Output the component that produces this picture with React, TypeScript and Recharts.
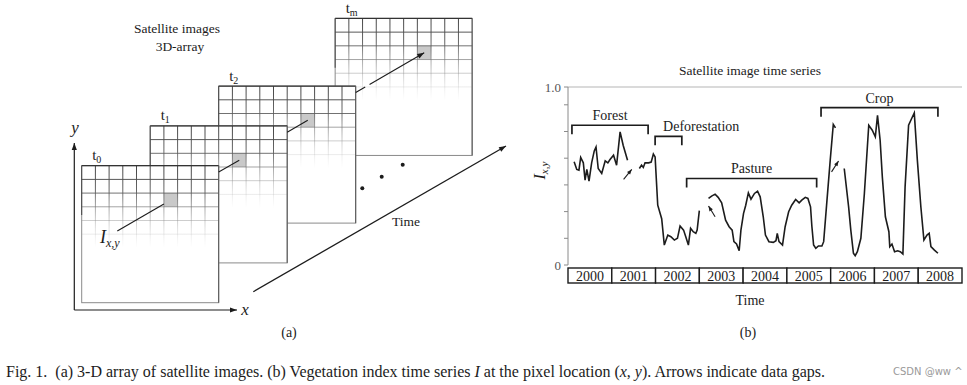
import React from 'react';
import {
  LineChart,
  Line,
  XAxis,
  YAxis,
  ReferenceLine,
  ScatterChart,
  Scatter,
} from 'recharts';

const SERIF = '"Liberation Serif", "DejaVu Serif", serif';
const INK = '#1c1c1c';

// ---------- (b) vegetation index time series ----------
const YEARS = [2000, 2001, 2002, 2003, 2004, 2005, 2006, 2007, 2008];
const Y_TICKS = [0, 0.15, 0.3, 0.45, 0.6, 0.75, 0.9, 1.0];

// sample dates (decimal years); a null value marks a data gap
const sampleYears = [
  2000.14, 2000.2, 2000.25, 2000.29, 2000.35, 2000.39, 2000.43, 2000.48, 2000.54, 2000.6, 2000.64, 2000.69, 2000.77, 2000.85, 2000.91, 2000.96,
  2001.04, 2001.11, 2001.19, 2001.26, 2001.36, 2001.5, 2001.63, 2001.68, 2001.72, 2001.76, 2001.84, 2001.9, 2001.95, 2001.99,
  2002.05, 2002.14, 2002.2, 2002.28, 2002.35, 2002.43, 2002.5, 2002.56, 2002.64, 2002.69, 2002.75, 2002.8, 2002.86, 2002.92, 2002.95,
  2003.0, 2003.1, 2003.21, 2003.28, 2003.36, 2003.43, 2003.51, 2003.6, 2003.68, 2003.75, 2003.79, 2003.85, 2003.91, 2003.95,
  2004.01, 2004.06, 2004.12, 2004.18, 2004.26, 2004.33, 2004.39, 2004.46, 2004.51, 2004.59, 2004.69, 2004.75, 2004.78, 2004.82, 2004.9, 2004.96,
  2005.04, 2005.11, 2005.2, 2005.28, 2005.34, 2005.42, 2005.48, 2005.54, 2005.57, 2005.61, 2005.66, 2005.72, 2005.8, 2005.84, 2005.91, 2005.99,
  2006.06, 2006.11, 2006.2, 2006.31, 2006.41, 2006.46, 2006.52, 2006.56, 2006.61, 2006.69, 2006.77, 2006.87, 2006.95,
  2007.02, 2007.07, 2007.13, 2007.18, 2007.25, 2007.33, 2007.35, 2007.4, 2007.46, 2007.53, 2007.59, 2007.65, 2007.7, 2007.78, 2007.85, 2007.91, 2007.98,
  2008.06, 2008.13, 2008.2, 2008.25, 2008.29, 2008.37, 2008.45,
];

const indexValues: (number | null)[] = [
  0.58, 0.537, 0.533, 0.604, 0.574, 0.477, 0.537, 0.471, 0.574, 0.641, 0.663, 0.542, 0.514, 0.585, 0.574, 0.593,
  0.617, 0.561, 0.748, 0.673, 0.589, null, 0.542, 0.561, 0.548, 0.574, 0.574, 0.578, 0.623, 0.607,
  0.336, 0.26, 0.112, 0.168, 0.159, 0.14, 0.15, 0.219, 0.196, 0.159, 0.112, 0.206, 0.187, 0.178, 0.196,
  0.305, null, 0.374, 0.387, 0.398, 0.38, 0.35, 0.252, 0.215, 0.196, 0.131, 0.118, 0.08, 0.196,
  0.29, 0.336, 0.405, 0.37, 0.402, 0.415, 0.383, 0.271, 0.168, 0.131, 0.127, 0.136, 0.178, 0.131, 0.112, 0.215,
  0.299, 0.336, 0.368, 0.349, 0.364, 0.38, 0.374, 0.327, 0.219, 0.112, 0.094, 0.107, 0.107, 0.131, 0.346, 0.589,
  0.79, 0.77, null, 0.542, 0.327, 0.196, 0.066, 0.052, 0.075, 0.15, 0.402, 0.785, 0.757,
  0.72, 0.841, 0.701, 0.495, 0.271, 0.187, 0.103, 0.118, 0.075, 0.08, 0.075, 0.062, 0.439, 0.785, 0.823, 0.854, 0.589,
  0.327, 0.14, 0.168, 0.178, 0.103, 0.084, 0.066,
];

const phases = [
  { label: 'Forest', from: 2000.09, to: 2001.83, level: 0.785, anchor: 'middle' },
  { label: 'Deforestation', from: 2001.99, to: 2002.6, level: 0.723, anchor: 'start' },
  { label: 'Pasture', from: 2002.71, to: 2005.68, level: 0.486, anchor: 'middle' },
  { label: 'Crop', from: 2005.78, to: 2008.45, level: 0.884, anchor: 'middle' },
];

// arrows pointing at the gaps: tail -> head
const gapArrows = [
  { t0: 2001.27, v0: 0.481, t1: 2001.456, v1: 0.537 },
  { t0: 2003.36, v0: 0.271, t1: 2003.21, v1: 0.331 },
  { t0: 2006.02, v0: 0.523, t1: 2006.18, v1: 0.584 },
];

// ---------- (a) 3-D array sketch ----------
const frameNames = ['0', '1', '2', 'm'];
const frameDepths = [0, 1, 2, 3.7];
const ellipsisDots = [
  { x: 362.3, y: 188.3 },
  { x: 381.7, y: 176.7 },
  { x: 402.7, y: 164.7 },
];
const timeAxis = [{ x: 253.3, y: 291.7 }, { x: 506, y: 146 }];
const yAxisArrow = [{ x: 74.3, y: 310 }, { x: 74.3, y: 143 }];
const xAxisArrow = [{ x: 74.3, y: 310 }, { x: 237, y: 310 }];
const sketchLabels = [
  { x: 177, y: 33, text: 'Satellite images', kind: 'plain' },
  { x: 180, y: 51, text: '3D-array', kind: 'plain' },
  { x: 406, y: 226, text: 'Time', kind: 'plain' },
  { x: 75, y: 133, text: 'y', kind: 'italic' },
  { x: 245, y: 315, text: 'x', kind: 'italic' },
  { x: 100, y: 243, text: 'I', sub: 'x,y', kind: 'sub' },
];

const FRAME_ORIGIN = { x: 81.7, y: 165.7 };
const FRAME_STEP = { x: 68.5, y: -39.8 };
const FRAME_SIZE = 137;
const CELLS = 10;
const CELL = FRAME_SIZE / CELLS;
const PIXEL = { col: 6, row: 2 };
const LABEL_START = 117.3;

const frameAt = (d: number) => ({ x: FRAME_ORIGIN.x + d * FRAME_STEP.x, y: FRAME_ORIGIN.y + d * FRAME_STEP.y });
const cellAt = (d: number) => {
  const f = frameAt(d);
  return { x: f.x + (PIXEL.col + 0.5) * CELL, y: f.y + (PIXEL.row + 0.5) * CELL };
};
const onRay = (d: number, atX: number) => {
  const c = cellAt(d);
  return { x: atX, y: c.y + ((atX - c.x) / FRAME_STEP.x) * FRAME_STEP.y };
};

const framePoints = frameNames
  .map((name, i) => ({ ...frameAt(frameDepths[i]), name }))
  .reverse();

const connectors = frameDepths.map((d, i) => {
  if (i === 0) {
    return [onRay(d, LABEL_START), onRay(d, frameAt(d).x + PIXEL.col * CELL)];
  }
  const prev = frameAt(frameDepths[i - 1]);
  return [onRay(d, prev.x + FRAME_SIZE), cellAt(d)];
});

const withHead = (pts: { x: number; y: number }[]) => {
  const [a, b] = pts;
  return [a, { ...b, dir: { dx: b.x - a.x, dy: b.y - a.y } }];
};

function headPath(x: number, y: number, dx: number, dy: number, len = 7, half = 2.6) {
  const n = Math.hypot(dx, dy) || 1;
  const ux = dx / n;
  const uy = dy / n;
  const bx = x - ux * len;
  const by = y - uy * len;
  return `M${x},${y} L${bx - uy * half},${by + ux * half} L${bx + uy * half},${by - ux * half} Z`;
}

const serifStyle = { fontFamily: SERIF };

const EndShape = (props: any) => {
  const { cx, cy, payload } = props;
  if (!payload || !payload.dir) return <g />;
  return <path d={headPath(cx, cy, payload.dir.dx, payload.dir.dy)} fill={INK} />;
};

const FrameShape = (props: any) => {
  const { cx, cy, payload } = props;
  const id = `fade-${payload.name}`;
  const fadeH = CELL * 6;
  const cols = Array.from({ length: CELLS - 1 }, (_, i) => cx + (i + 1) * CELL);
  const rows = Array.from({ length: 6 }, (_, j) => cy + (j + 1) * CELL);
  return (
    <g>
      <defs>
        <linearGradient id={id} gradientUnits="userSpaceOnUse" x1={0} y1={cy} x2={0} y2={cy + fadeH}>
          <stop offset="0" stopColor="#444" stopOpacity={1} />
          <stop offset="0.3" stopColor="#555" stopOpacity={0.9} />
          <stop offset="0.65" stopColor="#888" stopOpacity={0.45} />
          <stop offset="1" stopColor="#bbb" stopOpacity={0} />
        </linearGradient>
      </defs>
      <rect x={cx} y={cy} width={FRAME_SIZE} height={FRAME_SIZE} fill="#fff" stroke="#8a8a8a" strokeWidth={1} />
      <rect x={cx + PIXEL.col * CELL} y={cy + PIXEL.row * CELL} width={CELL} height={CELL} fill="#c9c9c9" />
      {cols.map((vx) => (
        <line key={`v${vx}`} x1={vx} x2={vx} y1={cy} y2={cy + fadeH} stroke={`url(#${id})`} strokeWidth={1} />
      ))}
      {rows.map((hy) => (
        <line key={`h${hy}`} x1={cx} x2={cx + FRAME_SIZE} y1={hy} y2={hy} stroke={`url(#${id})`} strokeWidth={1} />
      ))}
      <line x1={cx} x2={cx + FRAME_SIZE} y1={cy} y2={cy} stroke="#333" strokeWidth={1.2} />
      <line x1={cx} x2={cx} y1={cy} y2={cy + fadeH * 0.6} stroke="#444" strokeWidth={1} />
      <line x1={cx + FRAME_SIZE} x2={cx + FRAME_SIZE} y1={cy} y2={cy + FRAME_SIZE} stroke="#555" strokeWidth={1} />
      <text x={cx + 10.5} y={cy - 5.5} style={serifStyle} fontSize={15} fill={INK}>
        t<tspan fontSize={10} dy={3}>{payload.name}</tspan>
      </text>
    </g>
  );
};

const LabelShape = (props: any) => {
  const { cx, cy, payload } = props;
  if (payload.kind === 'sub') {
    return (
      <text x={cx} y={cy} style={serifStyle} fontStyle="italic" fontSize={18} fill={INK}>
        {payload.text}
        <tspan fontSize={12} dy={4}>{payload.sub}</tspan>
      </text>
    );
  }
  return (
    <text
      x={cx}
      y={cy}
      textAnchor="middle"
      style={serifStyle}
      fontStyle={payload.kind === 'italic' ? 'italic' : 'normal'}
      fontSize={payload.kind === 'italic' ? 17 : 13.5}
      fill={INK}
    >
      {payload.text}
    </text>
  );
};

const Dot = (props: any) => <circle cx={props.cx} cy={props.cy} r={2} fill={INK} />;

const A_W = 520;
const A_H = 345;

function ArraySketch() {
  const lineStyle = { stroke: INK, strokeWidth: 1.1 };
  return (
    <ScatterChart width={A_W} height={A_H} margin={{ top: 0, right: 0, bottom: 0, left: 0 }}>
      <XAxis type="number" dataKey="x" domain={[0, A_W]} hide allowDataOverflow />
      <YAxis type="number" dataKey="y" domain={[0, A_H]} reversed hide allowDataOverflow />
      <Scatter data={framePoints} shape={FrameShape} isAnimationActive={false} />
      {connectors.map((seg, i) => (
        <Scatter
          key={`c${i}`}
          data={i === connectors.length - 1 ? withHead(seg) : seg}
          line={i === connectors.length - 1 ? { ...lineStyle, strokeDasharray: '11 5 400' } : lineStyle}
          fill={INK}
          shape={EndShape}
          isAnimationActive={false}
        />
      ))}
      <Scatter data={withHead(timeAxis)} line={{ stroke: INK, strokeWidth: 1.3 }} fill={INK} shape={EndShape} isAnimationActive={false} />
      <Scatter data={withHead(yAxisArrow)} line={{ stroke: INK, strokeWidth: 1.2 }} fill={INK} shape={EndShape} isAnimationActive={false} />
      <Scatter data={withHead(xAxisArrow)} line={{ stroke: INK, strokeWidth: 1.2 }} fill={INK} shape={EndShape} isAnimationActive={false} />
      <Scatter data={ellipsisDots} shape={Dot} isAnimationActive={false} />
      <Scatter data={sketchLabels} shape={LabelShape} isAnimationActive={false} />
    </ScatterChart>
  );
}

// ---------- (b) chart ----------
const B_W = 445;
const B_H = 254;
const B_MARGIN = { top: 32, right: 3, bottom: 0, left: 0 };
const Y_W = 48;
const PLOT_W = B_W - Y_W - B_MARGIN.right;
const BOX_W = PLOT_W / YEARS.length;

const seriesData = sampleYears.map((t, i) => ({ t, v: indexValues[i] }));

const YearBox = (props: any) => {
  const { x, y, payload } = props;
  return (
    <g>
      <rect x={x - BOX_W / 2} y={y + 3} width={BOX_W} height={15} fill="#fff" stroke={INK} strokeWidth={1.4} />
      <text x={x} y={y + 15.5} textAnchor="middle" style={serifStyle} fontSize={14} fill={INK}>
        {Math.floor(payload.value)}
      </text>
    </g>
  );
};

const bracketShape = (label: string, anchor: string) => (p: any) => {
  const { x1, y1, x2 } = p;
  const tx = anchor === 'start' ? x1 + 8 : (x1 + x2) / 2;
  return (
    <g>
      <path d={`M${x1},${y1 + 9} V${y1} H${x2} V${y1 + 9}`} fill="none" stroke={INK} strokeWidth={1.7} />
      <text x={tx} y={y1 - 5} textAnchor={anchor} style={serifStyle} fontSize={14} fill={INK}>
        {label}
      </text>
    </g>
  );
};

const arrowShape = (p: any) => {
  const { x1, y1, x2, y2 } = p;
  return (
    <g>
      <line x1={x1} y1={y1} x2={x2} y2={y2} stroke={INK} strokeWidth={1.1} />
      <path d={headPath(x2, y2, x2 - x1, y2 - y1, 5, 2)} fill={INK} />
    </g>
  );
};

const yLabel = (p: any) => {
  const vb = p.viewBox || { x: 0, y: 0, width: 0, height: 0 };
  const cx = vb.x + 25;
  const cy = vb.y + vb.height * 0.47;
  return (
    <text
      x={cx}
      y={cy}
      transform={`rotate(-90, ${cx}, ${cy})`}
      textAnchor="middle"
      style={serifStyle}
      fontStyle="italic"
      fontSize={16}
      fill={INK}
    >
      I<tspan fontSize={11} dy={3}>x,y</tspan>
    </text>
  );
};

const timeLabel = (p: any) => {
  const vb = p.viewBox || { x: 0, y: 0, width: 0, height: 0 };
  return (
    <text x={vb.x + vb.width / 2 - 15} y={vb.y + 40} textAnchor="middle" style={serifStyle} fontSize={14} fill={INK}>
      Time
    </text>
  );
};

function TimeSeriesChart() {
  return (
    <LineChart width={B_W} height={B_H} data={seriesData} margin={B_MARGIN}>
      <XAxis
        type="number"
        dataKey="t"
        domain={[2000, 2009]}
        ticks={YEARS.map((y) => y + 0.5)}
        interval={0}
        tick={YearBox}
        tickLine={false}
        axisLine={false}
        tickSize={0}
        tickMargin={0}
        height={44}
        allowDataOverflow
        label={timeLabel}
      />
      <YAxis
        type="number"
        domain={[0, 1]}
        ticks={Y_TICKS}
        interval={0}
        width={Y_W}
        tickSize={4}
        tickMargin={3}
        axisLine={{ stroke: '#8a8a8a' }}
        tickLine={{ stroke: '#8a8a8a' }}
        tick={{ fill: '#555', fontSize: 13, fontFamily: SERIF }}
        tickFormatter={(v: number) => (v === 0 ? '0' : v === 1 ? '1.0' : '')}
        allowDataOverflow
        label={yLabel}
      />
      <ReferenceLine y={1} stroke="#b5b5b5" strokeWidth={1} />
      {phases.map((ph) => (
        <ReferenceLine
          key={ph.label}
          segment={[{ x: ph.from, y: ph.level }, { x: ph.to, y: ph.level }]}
          shape={bracketShape(ph.label, ph.anchor)}
        />
      ))}
      {gapArrows.map((a, i) => (
        <ReferenceLine key={`g${i}`} segment={[{ x: a.t0, y: a.v0 }, { x: a.t1, y: a.v1 }]} shape={arrowShape} />
      ))}
      <Line
        type="linear"
        dataKey="v"
        stroke={INK}
        strokeWidth={1.6}
        dot={false}
        connectNulls={false}
        isAnimationActive={false}
      />
    </LineChart>
  );
}

const abs = (left: number, top: number): React.CSSProperties => ({ position: 'absolute', left, top });

export default function App() {
  return (
    <div style={{ position: 'absolute', left: 0, top: 0, width: 967, height: 385, background: '#fff', color: INK, fontFamily: SERIF }}>
      <div style={abs(0, 0)}>
        <ArraySketch />
      </div>
      <div style={abs(520, 55)}>
        <TimeSeriesChart />
      </div>
      <div style={{ ...abs(650, 63), width: 200, textAlign: 'center', fontSize: 13.5, lineHeight: '16px' }}>
        Satellite image time series
      </div>
      <div style={{ ...abs(269, 324), width: 40, textAlign: 'center', fontSize: 14, lineHeight: '18px' }}>(a)</div>
      <div style={{ ...abs(728, 324), width: 40, textAlign: 'center', fontSize: 14, lineHeight: '18px' }}>(b)</div>
      <div style={{ ...abs(6, 362), fontSize: 16, lineHeight: '20px', whiteSpace: 'nowrap' }}>
        Fig. 1.&nbsp;&nbsp;(a) 3-D array of satellite images. (b) Vegetation index time series <i>I</i> at the pixel
        location (<i>x</i>,&nbsp;<i>y</i>). Arrows indicate data gaps.
      </div>
      <div style={{ ...abs(893, 366), fontSize: 10, lineHeight: '12px', color: '#9a9a9a', fontFamily: '"DejaVu Sans", sans-serif' }}>
        CSDN @ww ^
      </div>
    </div>
  );
}
